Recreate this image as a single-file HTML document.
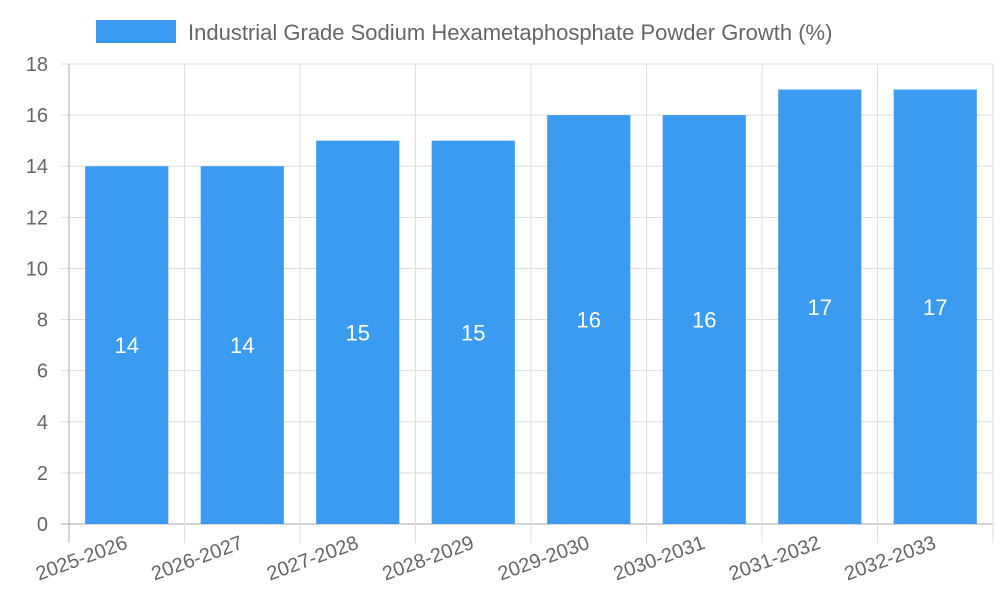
<!DOCTYPE html>
<html><head><meta charset="utf-8"><style>
body{margin:0;background:#fff;}
svg text{font-family:"Liberation Sans",sans-serif;}
</style></head><body>
<svg width="1000" height="600">
<g id="grid"></g>
<g id="bars"></g>
<g id="labels"></g>
<rect x="96" y="20" width="80" height="23" fill="#3a9bf0"/>
<text x="188" y="40" font-size="22" fill="#666">Industrial Grade Sodium Hexametaphosphate Powder Growth (%)</text>
</svg>
<script>
const categories=["2025-2026","2026-2027","2027-2028","2028-2029","2029-2030","2030-2031","2031-2032","2032-2033"];
const values=[14,14,15,15,16,16,17,17];
const yTicks=[0,2,4,6,8,10,12,14,16,18];
const X0=69,X1=993,Y0=524,Y1=64,YMAX=18;
const bw=(X1-X0)/categories.length;
const y=v=>Y0-(v/YMAX)*(Y0-Y1);
const xc=i=>X0+bw*(i+0.5);
const NS="http://www.w3.org/2000/svg";
function mk(t,a,p){const e=document.createElementNS(NS,t);for(const k in a)e.setAttribute(k,a[k]);p.appendChild(e);return e;}
const g=document.getElementById('grid'),b=document.getElementById('bars'),l=document.getElementById('labels');
yTicks.forEach(t=>{
 const ln=mk('line',{x1:61,x2:X1,y1:y(t),y2:y(t),stroke:t===0?'#aaa':'#ddd','stroke-width':1},g);
 
 
 const tx=mk('text',{x:48,y:y(t)+7,'font-size':20,fill:'#666','text-anchor':'end'},l);
 tx.textContent=t;
 
 
});
for(let i=0;i<=categories.length;i++){
 const x=X0+bw*i;
 const ln=mk('line',{x1:x,x2:x,y1:Y1,y2:543,stroke:i===0?'#aaa':'#ddd','stroke-width':1},g);
 
 
}
categories.forEach((c,i)=>{
 const w=bw*0.72,v=values[i];
 const r=mk('rect',{x:xc(i)-w/2,y:y(v),width:w,height:Y0-y(v),fill:'#3a9bf0'},b);
 
 
 const vt=mk('text',{x:xc(i),y:(y(v)+Y0)/2+8,'font-size':22,fill:'#fff','text-anchor':'middle'},b);
 vt.textContent=v;
 
 
 const ct=mk('text',{x:xc(i)+2,y:548,'font-size':20,fill:'#666','text-anchor':'end',transform:`rotate(-20 ${xc(i)+2} 548)`},l);
 ct.textContent=c;
 
 
});
</script>
</body></html>
